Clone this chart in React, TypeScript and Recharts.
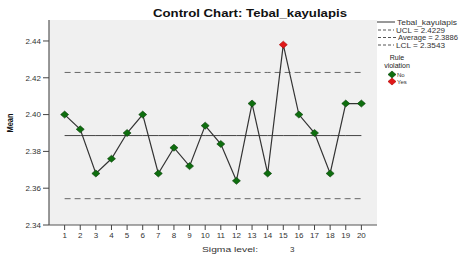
import React from 'react';
import { ComposedChart, Line, XAxis, YAxis, CartesianGrid } from 'recharts';

const samples = [1, 2, 3, 4, 5, 6, 7, 8, 9, 10, 11, 12, 13, 14, 15, 16, 17, 18, 19, 20];
const means = [2.400, 2.392, 2.368, 2.376, 2.390, 2.400, 2.368, 2.382, 2.372, 2.394, 2.384, 2.364, 2.406, 2.368, 2.438, 2.400, 2.390, 2.368, 2.406, 2.406];
const violations = ['No', 'No', 'No', 'No', 'No', 'No', 'No', 'No', 'No', 'No', 'No', 'No', 'No', 'No', 'Yes', 'No', 'No', 'No', 'No', 'No'];
const UCL = 2.4229;
const AVG = 2.3886;
const LCL = 2.3543;
const yTicks = [2.34, 2.36, 2.38, 2.40, 2.42, 2.44];

const data = samples.map((s, i) => ({ sample: s, mean: means[i], violation: violations[i], ucl: UCL, avg: AVG, lcl: LCL }));

const FONT = '"Liberation Sans", Arial, sans-serif';

const Diamond = (props: any) => {
  const { cx, cy, payload, index } = props;
  if (cx == null || cy == null) return null;
  const fill = payload.violation === 'Yes' ? '#e01818' : '#0e6e0e';
  const stroke = payload.violation === 'Yes' ? '#a00' : '#063d06';
  const w = 4, h = 3.5;
  return (
    <path key={index} d={`M${cx - w},${cy} L${cx},${cy - h} L${cx + w},${cy} L${cx},${cy + h} Z`} fill={fill} stroke={stroke} strokeWidth={0.6} />
  );
};

export default function App() {
  return (
    <div style={{ position: 'absolute', left: 0, top: 0, width: 471, height: 259, background: '#fff', fontFamily: FONT }}>
      <ComposedChart width={471} height={259} data={data} margin={{ top: 20, right: 94, bottom: 14, left: 0 }}>
        <CartesianGrid fill="#f0f0f0" horizontal={false} vertical={false} />
        <XAxis
          dataKey="sample"
          type="number"
          domain={[0, 21]}
          ticks={samples}
          interval={0}
          height={20}
          tickSize={5}
          tick={{ fontSize: 8, fill: '#333', fontFamily: FONT }}
          axisLine={{ stroke: '#555', strokeWidth: 1.2 }}
          tickLine={{ stroke: '#444' }}
        />
        <XAxis xAxisId="top" orientation="top" type="number" domain={[0, 21]} height={0} tick={false} tickLine={false} axisLine={{ stroke: '#777' }} />
        <YAxis
          type="number"
          domain={[2.34, 2.4514]}
          ticks={yTicks}
          interval={0}
          width={49}
          tickSize={6}
          tickFormatter={(v: number) => v.toFixed(2)}
          tick={{ fontSize: 8, fill: '#333', fontFamily: FONT }}
          axisLine={{ stroke: '#555', strokeWidth: 1.2 }}
          tickLine={{ stroke: '#444' }}
          allowDataOverflow
        />
        <YAxis yAxisId="right" orientation="right" type="number" domain={[2.34, 2.4514]} width={0} tick={false} tickLine={false} axisLine={{ stroke: '#888' }} />
        <Line dataKey="ucl" stroke="#666" strokeWidth={1} strokeDasharray="6 4" dot={false} isAnimationActive={false} />
        <Line dataKey="lcl" stroke="#666" strokeWidth={1} strokeDasharray="6 4" dot={false} isAnimationActive={false} />
        <Line dataKey="avg" stroke="#444" strokeWidth={1} dot={false} isAnimationActive={false} />
        <Line dataKey="mean" stroke="#333" strokeWidth={1.2} dot={<Diamond />} isAnimationActive={false} />
      </ComposedChart>
      <svg width={471} height={259} style={{ position: 'absolute', left: 0, top: 0, pointerEvents: 'none' }} fontFamily={FONT}>
        <text x={153} y={17} fontSize={11} fontWeight="bold" fill="#111" textLength={194} lengthAdjust="spacingAndGlyphs">Control Chart: Tebal_kayulapis</text>
        <text transform="translate(13,123) rotate(-90)" textAnchor="middle" fontSize={9} fontWeight="bold" fill="#111" textLength={19} lengthAdjust="spacingAndGlyphs">Mean</text>
        <text x={202} y={252} fontSize={8} fill="#333" textLength={56} lengthAdjust="spacingAndGlyphs">Sigma level:</text>
        <text x={290} y={252} fontSize={8} fill="#333">3</text>
        <line x1={377} y1={22} x2={395} y2={22} stroke="#333" strokeWidth={1} />
        <text x={397} y={25} fontSize={6.5} fill="#333" textLength={60} lengthAdjust="spacingAndGlyphs">Tebal_kayulapis</text>
        <line x1={378} y1={30} x2={394} y2={30} stroke="#555" strokeWidth={1} strokeDasharray="3 2" />
        <text x={396} y={32.5} fontSize={6.5} fill="#333" textLength={49} lengthAdjust="spacingAndGlyphs">UCL = 2.4229</text>
        <line x1={378} y1={37.5} x2={396} y2={37.5} stroke="#555" strokeWidth={1} strokeDasharray="3 2" />
        <text x={398} y={40} fontSize={6.5} fill="#333" textLength={60} lengthAdjust="spacingAndGlyphs">Average = 2.3886</text>
        <line x1={378} y1={45} x2={394} y2={45} stroke="#555" strokeWidth={1} strokeDasharray="3 2" />
        <text x={396} y={47.5} fontSize={6.5} fill="#333" textLength={49} lengthAdjust="spacingAndGlyphs">LCL = 2.3543</text>
        <text x={397} y={60} textAnchor="middle" fontSize={7} fill="#222">Rule</text>
        <text x={397} y={68} textAnchor="middle" fontSize={7} fill="#222">violation</text>
        <path d="M388,74.5 L392,71 L396,74.5 L392,78 Z" fill="#0e6e0e" stroke="#063d06" strokeWidth={0.6} />
        <text x={397} y={77} fontSize={6} fill="#333">No</text>
        <path d="M388,81.5 L392,78 L396,81.5 L392,85 Z" fill="#e01818" stroke="#a00" strokeWidth={0.6} />
        <text x={397} y={84} fontSize={6} fill="#333">Yes</text>
      </svg>
    </div>
  );
}
